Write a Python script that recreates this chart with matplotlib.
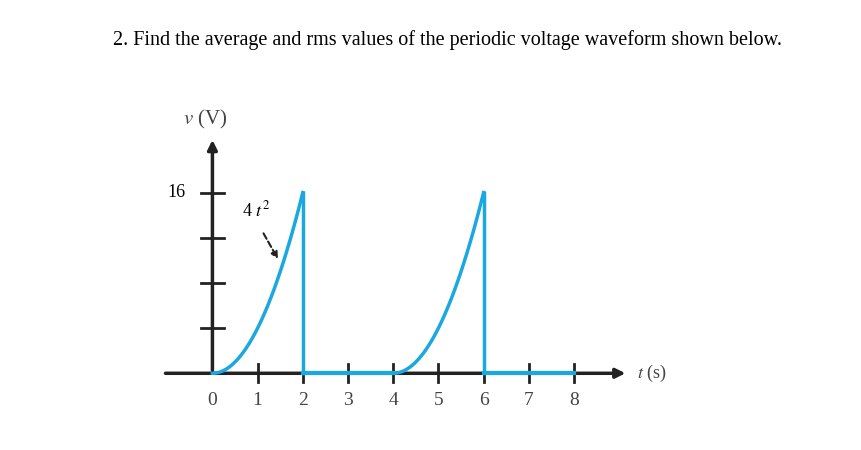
import numpy as np
import matplotlib.pyplot as plt

plt.rcParams['mathtext.fontset'] = 'stix'

BLUE = '#1BA8E0'
SERIF = ['Liberation Serif', 'DejaVu Serif']

# data
period = 4.0
amp_coef = 4.0           # v = 4 t^2 on 0..2
on_time = 2.0
t_end = 8.0
x_ticks = [0, 1, 2, 3, 4, 5, 6, 7, 8]
y_ticks = [4, 8, 12, 16]

fig = plt.figure(figsize=(8.61, 4.5), dpi=100)
ax = fig.add_axes([0, 0, 1, 1])
ax.set_xlim(-4.70, 14.35)
ax.set_ylim(-6.79, 33.04)
ax.axis('off')

fig.text(0.52, 0.91, '2. Find the average and rms values of the periodic voltage waveform shown below.',
         ha='center', va='center', fontsize=14.5, family=SERIF)

# axes
ax.annotate('', xy=(9.2, 0), xytext=(-1.1, 0),
            arrowprops=dict(arrowstyle='-|>', color='#222222', lw=2.5, mutation_scale=14))
ax.annotate('', xy=(0, 20.9), xytext=(0, 0),
            arrowprops=dict(arrowstyle='-|>', color='#222222', lw=2.5, mutation_scale=14))
for xt in x_ticks[1:]:
    ax.plot([xt, xt], [-0.8, 0.8], color='#222222', lw=2)
for yt in y_ticks:
    ax.plot([-0.25, 0.25], [yt, yt], color='#222222', lw=2)

# waveform
for k in range(int(t_end / period)):
    t0 = k * period
    tt = np.linspace(0, on_time, 100)
    ax.plot(t0 + tt, amp_coef * tt ** 2, color=BLUE, lw=2.5, zorder=3)
    ax.plot([t0 + on_time] * 2, [amp_coef * on_time ** 2, 0], color=BLUE, lw=2.5, zorder=3)
    ax.plot([t0 + on_time, t0 + period], [0, 0], color=BLUE, lw=3, zorder=3)

# labels
for xt in x_ticks:
    ax.text(xt, -2.4, str(xt), ha='center', va='center', fontsize=14,
            color='#444444', family=SERIF)
ax.text(-0.6, 16, '16', ha='right', va='center', fontsize=13, family=SERIF)
ax.text(-0.15, 22.5, r'$\mathit{v}$ (V)', ha='center', va='center', fontsize=15,
        family=SERIF, color='#444444')
ax.text(9.4, 0, r'$\mathit{t}$ (s)', ha='left', va='center', fontsize=13,
        family=SERIF, color='#444444')
ax.text(0.65, 14.4, r'4 $t^2$', ha='left', va='center', fontsize=13, family=SERIF)
ax.annotate('', xy=(1.48, 9.9), xytext=(1.1, 12.6),
            arrowprops=dict(arrowstyle='-|>', color='#222222', lw=1.5,
                            linestyle=(0, (3, 1.5)), mutation_scale=10))

plt.savefig('out.png', dpi=100)
